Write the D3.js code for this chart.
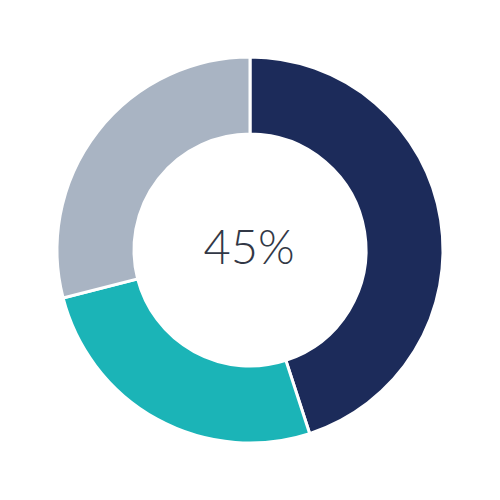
<!DOCTYPE html>
<html>
<head>
<meta charset="utf-8">
<script src="https://cdn.jsdelivr.net/npm/d3@7"></script>
<style>
  body { margin: 0; background: #fff; }
</style>
</head>
<body>
<script>
var labels = ["A", "B", "C"];
var values = [45, 26, 29];
var colors = ["#1c2b5a", "#1bb4b7", "#a9b4c3"];
var centerLabel = "45%";

var w = 500, h = 500;
var x = 250, y = 250;
var outer_r = 193;
var inner_r = 116;

var svg = d3.select("body").append("svg")
    .attr("width", w)
    .attr("height", h);

var g = svg.append("g")
    .attr("transform", "translate(" + x + "," + y + ")");

var pie = d3.pie().sort(null).value(function (d) { return d; });
var arc = d3.arc().innerRadius(inner_r).outerRadius(outer_r);

g.selectAll("path")
    .data(pie(values))
    .enter().append("path")
    .attr("d", arc)
    .attr("fill", function (d, i) { return colors[i]; })
    .attr("stroke", "#fff")
    .attr("stroke-width", 3);

g.append("text")
    .attr("x", -1)
    .attr("y", 14)
    .attr("text-anchor", "middle")
    .style("font-family", "Lato, sans-serif")
    .style("font-weight", 300)
    .style("font-size", "47px")
    .style("fill", "#323846")
    .text(centerLabel);
</script>
</body>
</html>
